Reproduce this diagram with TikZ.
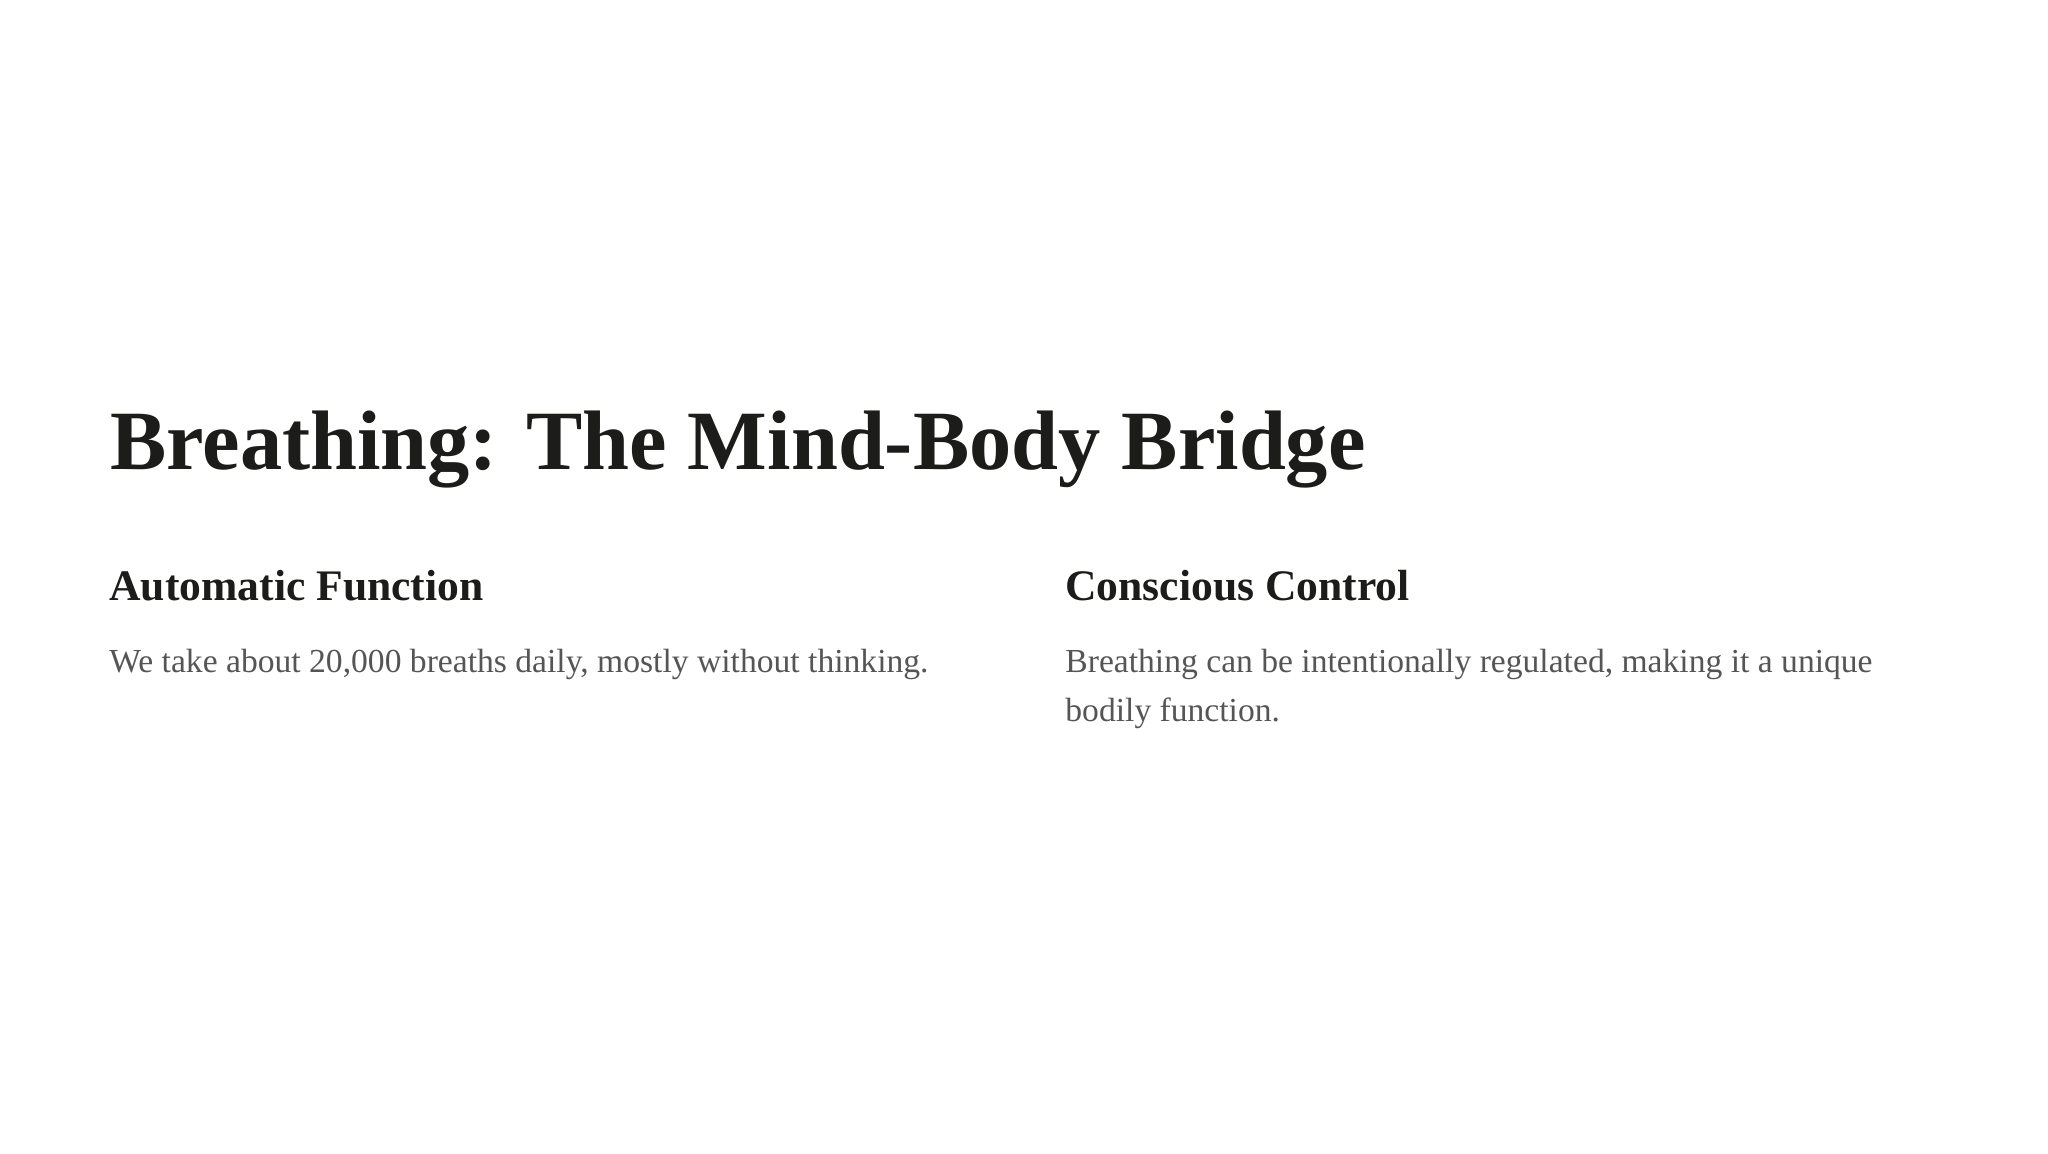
\documentclass[tikz,border=0pt]{standalone}
\usepackage{fontspec}
\setmainfont{Liberation Serif}
\definecolor{inkdark}{HTML}{1C1C1A}
\definecolor{inkgray}{HTML}{555555}
\tikzset{
  titletext/.style={anchor=base west, inner sep=0pt, text=inkdark, font=\fontsize{42.2}{50}\selectfont\bfseries},
  headtext/.style={anchor=base west, inner sep=0pt, text=inkdark, font=\fontsize{21.8}{26}\selectfont\bfseries},
  bodytext/.style={anchor=base west, inner sep=0pt, text=inkgray, align=left, font=\fontsize{16.8}{24.5}\selectfont}
}
\begin{document}
\begin{tikzpicture}[x=0.5pt, y=-0.5pt]
        \useasboundingbox[fill=white] (0,0) rectangle (2048,1154);

        \node[titletext] (title) at (110,470) {Breathing: The Mind-Body Bridge};

        \node[headtext] (autohead) at (109,600) {Automatic Function};
        \node[headtext] (conshead) at (1065,600) {Conscious Control};

        % base of a two-line node sits on its last line
        \node[bodytext] (autobody) at (109,672) {We take about 20,000 breaths daily, mostly without thinking.};
        \node[bodytext] (consbody) at (1065,721) {Breathing can be intentionally regulated, making it a unique\\bodily function.};
    \end{tikzpicture}
\end{document}
